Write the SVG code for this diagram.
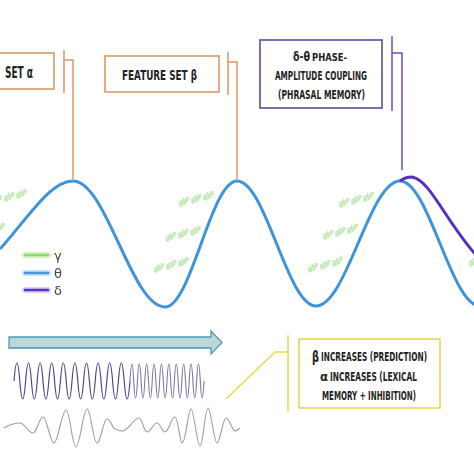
<svg xmlns="http://www.w3.org/2000/svg" width="474" height="474" viewBox="0 0 474 474">
<style>
.lbl{font-family:"Liberation Sans Narrow","DejaVu Sans Condensed","Liberation Sans",sans-serif;font-weight:bold;fill:#222;}
.box-o{fill:#fff;stroke:#d89a6c;stroke-width:1.6;}
.box-p{fill:#fff;stroke:#5a4aa0;stroke-width:1.6;}
.box-y{fill:#fff;stroke:#e6d65a;stroke-width:1.6;}
.br-o{fill:none;stroke:#e0956a;stroke-width:1.5;}
.br-p{fill:none;stroke:#6a4ec0;stroke-width:1.5;}
.br-y{fill:none;stroke:#e8d850;stroke-width:1.5;}
.gam{fill:none;stroke:#8ed472;stroke-width:0.55;opacity:0.85;}
.leg{font-family:"DejaVu Sans","Liberation Sans",sans-serif;font-size:13px;fill:#444;}
</style>
<defs>
<path id="sq" d="M0,0 l0.85,-5 l0.85,6 l0.85,-7 l0.85,6 l0.85,-8 l0.85,7 l0.85,-6 l0.85,5 l0.85,-7 l0.85,5 l0.85,-5 l0.85,3 m2,3 l0.85,-5 l0.85,6 l0.85,-7 l0.85,6 l0.85,-8 l0.85,7 l0.85,-6 l0.85,5 l0.85,-7 l0.85,5 l0.85,-5 l0.85,3 m2,3 l0.85,-5 l0.85,6 l0.85,-7 l0.85,6 l0.85,-8 l0.85,7 l0.85,-6 l0.85,5 l0.85,-7 l0.85,5 l0.85,-5 l0.85,3"/>
</defs>

<g id="gamma-bursts" class="gam">
<use href="#sq" transform="translate(-8,204)"/>
<use href="#sq" transform="translate(-30,238)"/>
<use href="#sq" transform="translate(179,206)"/>
<use href="#sq" transform="translate(166,241)"/>
<use href="#sq" transform="translate(154,272)"/>
<use href="#sq" transform="translate(339,207)"/>
<use href="#sq" transform="translate(323,239)"/>
<use href="#sq" transform="translate(308,272)"/>
<use href="#sq" transform="translate(469,266)"/>
</g>

<g id="theta-wave">
<path d="M0,249 C28,218 50,181 73,181 C106.5,181 131.5,307 165,307 C191.2,307 210.8,181 237,181 C265.8,181 287.2,306 316,306 C346.6,306 369.4,181 400,181 C429,181 451,306 480,306" fill="none" stroke="#3f93da" stroke-width="3"/>
</g>
<g id="delta-wave">
<path d="M400,181 Q405,177 412,177 C430,180 445,220 476,255" fill="none" stroke="#5530c0" stroke-width="3"/>
</g>

<g id="connectors">
<line class="br-o" x1="64" y1="50" x2="64" y2="93"/>
<path class="br-o" d="M64,60 H73 V179"/>
<line class="br-o" x1="228" y1="52" x2="228" y2="95"/>
<path class="br-o" d="M228,62 H237 V179"/>
<line class="br-p" x1="392" y1="36" x2="392" y2="111"/>
<path class="br-p" d="M392,53 H402 V170"/>
<line class="br-y" x1="288" y1="335" x2="288" y2="412"/>
<path class="br-y" d="M226,399 L275,352 H288"/>
</g>

<g id="node-set-alpha">
<rect class="box-o" x="-5" y="53" width="59" height="36"/>
<text class="lbl" x="5" y="78" font-size="15" textLength="28" lengthAdjust="spacingAndGlyphs">SET α</text>
</g>
<g id="node-feature-set-beta">
<rect class="box-o" x="105" y="56" width="114" height="36"/>
<text class="lbl" x="122" y="80" font-size="14" textLength="75" lengthAdjust="spacingAndGlyphs">FEATURE SET β</text>
</g>
<g id="node-pac">
<rect class="box-p" x="260" y="40" width="122" height="68"/>
<text class="lbl" x="293" y="61" font-size="13" textLength="17" lengthAdjust="spacingAndGlyphs">δ-θ</text>
<text class="lbl" x="312" y="61" font-size="11" textLength="35" lengthAdjust="spacingAndGlyphs">PHASE-</text>
<text class="lbl" x="275" y="80" font-size="11.5" textLength="92" lengthAdjust="spacingAndGlyphs">AMPLITUDE COUPLING</text>
<text class="lbl" x="278" y="99" font-size="11.5" textLength="87" lengthAdjust="spacingAndGlyphs">(PHRASAL MEMORY)</text>
</g>
<g id="node-increases">
<rect class="box-y" x="299" y="339" width="141" height="69"/>
<text class="lbl" x="312" y="362" font-size="15" textLength="7" lengthAdjust="spacingAndGlyphs">β</text>
<text class="lbl" x="321" y="361" font-size="11.5" textLength="106" lengthAdjust="spacingAndGlyphs">INCREASES (PREDICTION)</text>
<text class="lbl" x="320" y="381" font-size="13" textLength="8" lengthAdjust="spacingAndGlyphs">α</text>
<text class="lbl" x="330" y="381" font-size="11.5" textLength="87" lengthAdjust="spacingAndGlyphs">INCREASES (LEXICAL</text>
<text class="lbl" x="322" y="400" font-size="11.5" textLength="94" lengthAdjust="spacingAndGlyphs">MEMORY + INHIBITION)</text>
</g>

<g id="legend">
<line x1="25" y1="255" x2="48" y2="255" stroke="#b8ec98" stroke-width="6" stroke-linecap="round" opacity="0.6"/>
<line x1="25" y1="255" x2="48" y2="255" stroke="#8fdc6a" stroke-width="2.5" stroke-linecap="round"/>
<line x1="25" y1="273" x2="48" y2="273" stroke="#a8cdf2" stroke-width="6" stroke-linecap="round" opacity="0.6"/>
<line x1="25" y1="273" x2="48" y2="273" stroke="#4d95dc" stroke-width="2.5" stroke-linecap="round"/>
<line x1="25" y1="290" x2="48" y2="290" stroke="#c6b4f0" stroke-width="6" stroke-linecap="round" opacity="0.6"/>
<line x1="25" y1="290" x2="48" y2="290" stroke="#5a30d0" stroke-width="2.5" stroke-linecap="round"/>
<text class="leg" x="54" y="260">γ</text>
<text class="leg" x="54" y="278">θ</text>
<text class="leg" x="54" y="295">δ</text>
</g>

<g id="time-arrow">
<path d="M9,337 H211 V331 L222,342.5 L211,354 V348 H9 Z" fill="#bcd7d8" stroke="#4a9ab2" stroke-width="1.3"/>
</g>

<g id="fast-wave">
<path d="M14,381 q2.9,-36 5.8,0 t5.8,0 t5.8,0 t5.8,0 t5.8,0 t5.8,0 t5.8,0 t5.8,0 t5.8,0 t5.8,0 t5.8,0 t5.8,0 t5.8,0 t5.8,0 t5.8,0 t5.8,0 t5.8,0 t5.8,0 t5.8,0 t5.8,0" fill="none" stroke="#4a4a8c" stroke-width="1.2"/>
<path d="M130,381 q1.85,-34 3.7,0 t3.7,0 t3.7,0 t3.7,0 t3.7,0 t3.7,0 t3.7,0 t3.7,0 t3.7,0 t3.7,0 t3.7,0 t3.7,0 t3.7,0 t3.7,0 t3.7,0 t3.7,0 t3.7,0 t3.7,0 t3.7,0 t3.7,0" fill="none" stroke="#7a7aa8" stroke-width="1.1"/>
</g>

<g id="am-wave">
<path d="M4,428 C9,425 14,423 20,423 C25,423 28,433 33,433 C37,433 39,417 43,417 C47,417 50,443 54,443 C58,443 62,410 66,410 C70,410 72,447 76,447 C80,447 83,409 87,409 C91,409 93,443 97,443 C101,443 103,419 107,419 C111,419 112,428 115,429 C117,430 119,431 122,431 C128,431 134,418 139,418 C142,418 144,432 147,432 C151,432 153,423 157,423 C160,423 162,432 165,432 C169,432 171,417 175,417 C178,417 180,443 182,443 C186,443 188,409 191,409 C194,409 197,446 200,446 C203,446 205,408 208,408 C211,408 214,443 217,443 C220,443 223,418 226,418 C230,418 232,431 235,431 C237,431 238,429 240,428" fill="none" stroke="#9a98bc" stroke-width="1.1"/>
</g>
</svg>
